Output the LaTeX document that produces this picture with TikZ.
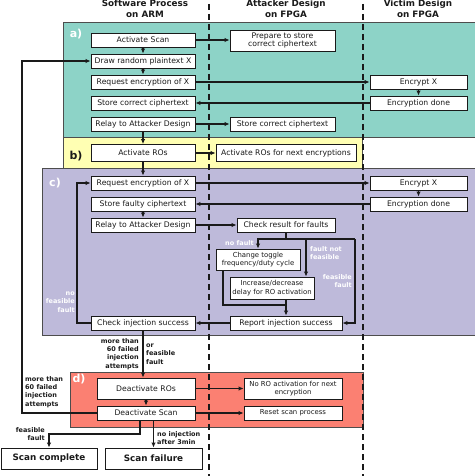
\documentclass[tikz,border=0pt]{standalone}
\usepackage{fontspec}
\setmainfont{DejaVu Sans}
\usetikzlibrary{arrows.meta}
\definecolor{rega}{HTML}{8DD3C7}
\definecolor{regb}{HTML}{FFFFB3}
\definecolor{regc}{HTML}{BEBADA}
\definecolor{regd}{HTML}{FB8072}
\definecolor{ink}{HTML}{1A1A1A}
\definecolor{edge}{HTML}{4D4D4D}
\begin{document}
\begin{tikzpicture}[x=1pt,y=-1pt,
  box/.style={draw=ink, fill=white, line width=0.9pt, inner sep=0pt,
    minimum height=14pt, minimum width=104pt, align=center, text=ink,
    font=\fontsize{7.7}{8.6}\selectfont},
  smallbox/.style={box, font=\fontsize{6.9}{8.6}\selectfont},
  bigbox/.style={box, font=\fontsize{8.8}{10}\selectfont\bfseries},
  arr/.style={-{Latex[length=5pt,width=4.5pt]}, line width=1.1pt, draw=ink},
  plain/.style={line width=1.1pt, draw=ink},
  region/.style={draw=edge, line width=0.9pt},
  lane/.style={draw=ink, line width=1.3pt, dash pattern=on 6pt off 4pt},
  head/.style={font=\fontsize{8.8}{11}\selectfont\bfseries, align=center, inner sep=0pt, text=ink},
  reglab/.style={font=\fontsize{11}{12}\selectfont\bfseries, inner sep=0pt},
  lab/.style={font=\fontsize{6.5}{8.4}\selectfont\bfseries, inner sep=0pt, text=ink},
  wlab/.style={lab, text=white}]
\useasboundingbox (0,0) rectangle (474,476);
% regions
\filldraw[region, fill=rega] (63,22) rectangle (476,137);
\filldraw[region, fill=regb] (63,137) rectangle (362,168);
\filldraw[region, fill=regc] (42,168) rectangle (476,335);
\filldraw[region, fill=regd] (70,372) rectangle (363,427);
% lanes
\draw[lane] (209,4) -- (209,478);
\draw[lane] (363,4) -- (363,478);
% headers
\node[head] (h1) at (145,9) {Software Process\\on ARM};
\node[head] (h2) at (286,9) {Attacker Design\\on FPGA};
\node[head] (h3) at (418,9) {Victim Design\\on FPGA};
% region labels
\node[reglab, text=white] (la) at (76,34) {a)};
\node[reglab, text=ink] (lb) at (76,156) {b)};
\node[reglab, text=white] (lc) at (55,183) {c)};
\node[reglab, text=white] (ld) at (79,379) {d)};
% a)
\node[box] (actScan) at (143,40) {Activate Scan};
\node[box] (drawX) at (143,61) {Draw random plaintext X};
\node[box] (reqA) at (143,82) {Request encryption of X};
\node[box] (storeA) at (143,103) {Store correct ciphertext};
\node[box] (relayA) at (143,124) {Relay to Attacker Design};
\node[box, minimum width=105pt, minimum height=21pt] (prepA) at (282.5,40.5) {Prepare to store\\correct ciphertext};
\node[box, minimum width=105pt] (storeAtt) at (282.5,124) {Store correct ciphertext};
\node[box, minimum width=97pt] (encA) at (418.5,82) {Encrypt X};
\node[box, minimum width=97pt] (doneA) at (418.5,103) {Encryption done};
% b)
\node[box, minimum height=17pt] (actRO) at (143,153) {Activate ROs};
\node[box, minimum width=140pt, minimum height=17pt] (actROnext) at (286,153) {Activate ROs for next encryptions};
% c)
\node[box] (reqC) at (143,183) {Request encryption of X};
\node[box] (storeC) at (143,204) {Store faulty ciphertext};
\node[box] (relayC) at (143,225) {Relay to Attacker Design};
\node[box] (checkInj) at (143,323) {Check injection success};
\node[box, minimum width=97pt] (encC) at (418.5,183) {Encrypt X};
\node[box, minimum width=97pt] (doneC) at (418.5,204) {Encryption done};
\node[box, minimum width=98pt] (checkRes) at (286,225) {Check result for faults};
\node[smallbox, minimum width=84pt, minimum height=21pt] (changeT) at (258,259.5) {Change toggle\\frequency/duty cycle};
\node[smallbox, minimum width=84pt, minimum height=22pt] (incDec) at (272,288) {Increase/decrease\\delay for RO activation};
\node[box, minimum width=112pt] (report) at (286,323) {Report injection success};
% d)
\node[box, minimum width=98pt, minimum height=21pt] (deactRO) at (146,388.5) {Deactivate ROs};
\node[box, minimum width=98pt] (deactScan) at (146,413) {Deactivate Scan};
\node[smallbox, minimum width=98pt, minimum height=21pt] (noRO) at (293,388.5) {No RO activation for next\\encryption};
\node[smallbox, minimum width=98pt] (reset) at (293,413) {Reset scan process};
\node[bigbox, minimum width=96pt, minimum height=21pt] (scanComplete) at (49,458.5) {Scan complete};
\node[bigbox, minimum width=97pt, minimum height=21pt] (scanFail) at (153.5,458.5) {Scan failure};
% connectors a)
\draw[arr] (actScan.east) -- (prepA.west |- actScan.east);
\draw[arr] (actScan.south) -- (drawX.north);
\draw[arr] (drawX.south) -- (reqA.north);
\draw[arr] (reqA.east) -- (encA.west);
\draw[arr] (encA.south) -- (doneA.north);
\draw[arr] (doneA.west) -- (storeA.east);
\draw[arr] (relayA.east) -- (storeAtt.west);
\draw[arr] (relayA.south) -- (actRO.north);
% b)
\draw[arr] (actRO.east) -- (actROnext.west);
\draw[arr] (actRO.south) -- (reqC.north);
% c)
\draw[arr] (reqC.east) -- (encC.west);
\draw[arr] (encC.south) -- (doneC.north);
\draw[arr] (doneC.west) -- (storeC.east);
\draw[arr] (storeC.south) -- (relayC.north);
\draw[arr] (relayC.east) -- (checkRes.west);
\coordinate (j1) at (286,239);
\coordinate (j2) at (306,239);
\coordinate (j3) at (355,239);
\coordinate (c1) at (223,305);
\draw[plain] (checkRes.south) -- (j1);
\draw[arr] (j1) -| (changeT.north);
\draw[plain] (j1) -- (j3);
\draw[arr] (j2) -- (j2 |- incDec.north);
\draw[arr] (j3) |- (report.east);
\draw[plain] (changeT.south -| c1) -- (c1) -- (c1 -| report.north);
\draw[arr] (incDec.south -| report.north) -- (report.north);
\draw[arr] (report.west) -- (checkInj.east);
\coordinate (lc1) at (77,323);
\draw[arr] (checkInj.west) -- (lc1) |- (reqC.west);
\draw[arr] (checkInj.south) -- (checkInj.south |- deactRO.north);
% d)
\draw[arr] (deactRO.east) -- (noRO.west);
\draw[arr] (deactRO.south) -- (deactScan.north);
\draw[arr] (deactScan.east) -- (reset.west);
\coordinate (lp) at (22,413);
\draw[arr] (deactScan.west) -- (lp) |- (drawX.west);
\coordinate (s1) at (140,434);
\draw[arr] (deactScan.south -| s1) -- (s1) -| (scanComplete.north);
\draw[arr] (deactScan.south -| scanFail.north) -- (scanFail.north);
% labels
\node[wlab, align=right, anchor=east] (l1) at (75,302) {no\\feasible\\fault};
\node[wlab, anchor=west] (l2) at (225,243) {no fault};
\node[wlab, align=left, anchor=west] (l3) at (310,253) {fault not\\feasible};
\node[wlab, align=right, anchor=east] (l4) at (352,281) {feasible\\fault};
\node[lab, align=right, anchor=east] (l5) at (139,354) {more than\\60 failed\\injection\\attempts};
\node[lab, align=left, anchor=west] (l6) at (146,354) {or\\feasible\\fault};
\node[lab, align=left, anchor=west] (l7) at (25,392) {more than\\60 failed\\injection\\attempts};
\node[lab, align=right, anchor=east] (l8) at (45,434) {feasible\\fault};
\node[lab, align=left, anchor=west] (l9) at (157,438) {no injection\\after 3min};
\end{tikzpicture}
\end{document}
